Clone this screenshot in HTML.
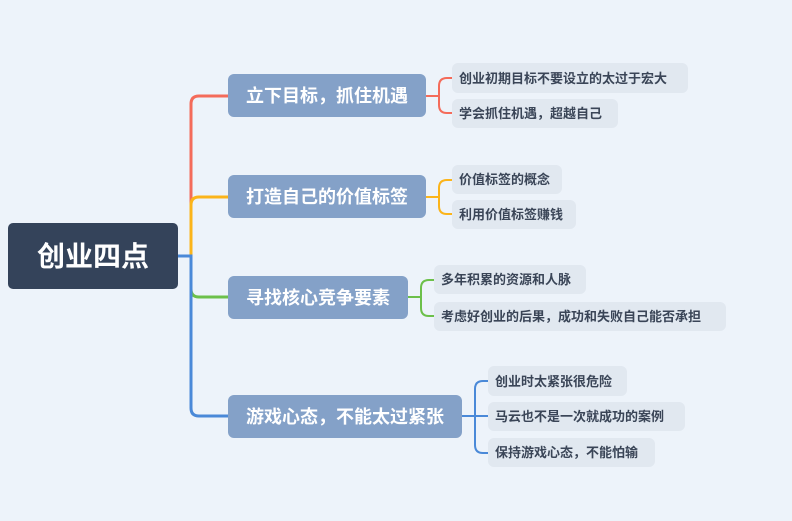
<!DOCTYPE html>
<html><head><meta charset="utf-8"><style>
html,body{margin:0;padding:0;background:#edf3fa;}
svg{display:block}
text{font-family:"Liberation Sans","Noto Sans CJK SC",sans-serif;}
.b{fill:#fff;font-size:18px;font-weight:bold;}
.l{fill:#3a4557;font-size:13px;font-weight:bold;}
</style></head><body>
<svg width="792" height="521" viewBox="0 0 792 521">
<rect width="792" height="521" fill="#edf3fa"/>
<g fill="none" stroke-width="3" stroke-linecap="round">
<path d="M178 256 H191 V104 Q191 96 199 96 H228" stroke="#f46b5a"/>
<path d="M178 256 H191 V205 Q191 197 199 197 H228" stroke="#fbb41a"/>
<path d="M178 256 H191 V289 Q191 297 199 297 H228" stroke="#6cc04a"/>
<path d="M178 256 H191 V408 Q191 416 199 416 H228" stroke="#4a89d8"/>
</g>
<g fill="none" stroke-width="2">
<path d="M426 96 H439 M452 78 H447 Q439 78 439 86 V105 Q439 113 447 113 H452" stroke="#f46b5a"/>
<path d="M426 197 H439 M452 180 H447 Q439 180 439 188 V206 Q439 214 447 214 H452" stroke="#fbb41a"/>
<path d="M408 297 H421 M434 280 H429 Q421 280 421 288 V308 Q421 316 429 316 H434" stroke="#6cc04a"/>
<path d="M462 416 H488 M488 381 H483 Q475 381 475 389 V445 Q475 453 483 453 H488" stroke="#4a89d8"/>
</g>
<rect x="8" y="223" width="170" height="66" rx="5" fill="#34435a"/>
<text x="93" y="266" text-anchor="middle" fill="#fff" font-size="28" font-weight="bold">创业四点</text>
<rect x="228" y="74" width="198" height="43" rx="6" fill="#84a1c8"/>
<text class="b" x="327" y="102" text-anchor="middle">立下目标，抓住机遇</text>
<rect x="228" y="175" width="198" height="43" rx="6" fill="#84a1c8"/>
<text class="b" x="327" y="203" text-anchor="middle">打造自己的价值标签</text>
<rect x="228" y="276" width="180" height="43" rx="6" fill="#84a1c8"/>
<text class="b" x="318" y="304" text-anchor="middle">寻找核心竞争要素</text>
<rect x="228" y="395" width="234" height="43" rx="6" fill="#84a1c8"/>
<text class="b" x="345" y="423" text-anchor="middle">游戏心态，不能太过紧张</text>
<g fill="#e1e8f0">
<rect x="452" y="63" width="236" height="30" rx="6"/>
<rect x="452" y="99" width="166" height="29" rx="6"/>
<rect x="452" y="165" width="110" height="29" rx="6"/>
<rect x="452" y="200" width="124" height="29" rx="6"/>
<rect x="434" y="265" width="152" height="29" rx="6"/>
<rect x="434" y="302" width="292" height="29" rx="6"/>
<rect x="488" y="366" width="139" height="30" rx="6"/>
<rect x="488" y="402" width="197" height="29" rx="6"/>
<rect x="488" y="438" width="167" height="29" rx="6"/>
</g>
<text class="l" x="459" y="83">创业初期目标不要设立的太过于宏大</text>
<text class="l" x="459" y="118">学会抓住机遇，超越自己</text>
<text class="l" x="459" y="184">价值标签的概念</text>
<text class="l" x="459" y="219">利用价值标签赚钱</text>
<text class="l" x="441" y="284">多年积累的资源和人脉</text>
<text class="l" x="441" y="321">考虑好创业的后果，成功和失败自己能否承担</text>
<text class="l" x="495" y="386">创业时太紧张很危险</text>
<text class="l" x="495" y="421">马云也不是一次就成功的案例</text>
<text class="l" x="495" y="457">保持游戏心态，不能怕输</text>
</svg>
</body></html>
